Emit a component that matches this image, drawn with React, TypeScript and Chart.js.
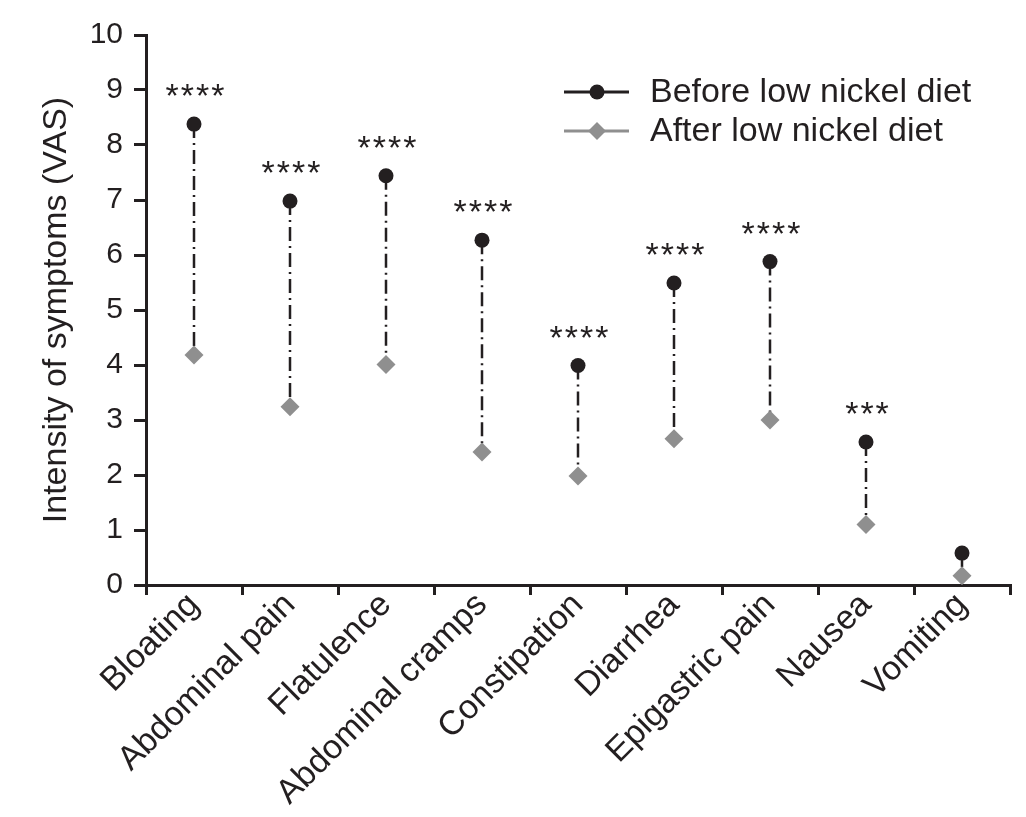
import React, { useEffect, useRef } from "react";
import { Chart, registerables } from "chart.js";

Chart.register(...registerables);

const categories = [
  "Bloating",
  "Abdominal pain",
  "Flatulence",
  "Abdominal cramps",
  "Constipation",
  "Diarrhea",
  "Epigastric pain",
  "Nausea",
  "Vomiting",
];
const beforeValues = [8.38, 6.98, 7.44, 6.27, 3.99, 5.49, 5.88, 2.6, 0.58];
const afterValues = [4.18, 3.24, 4.01, 2.42, 1.98, 2.66, 3.0, 1.1, 0.17];
const significance = ["****", "****", "****", "****", "****", "****", "****", "***", ""];
const seriesNames = ["Before low nickel diet", "After low nickel diet"];
const yTitle = "Intensity of symptoms (VAS)";

const FONT = '"Liberation Sans", Arial, Helvetica, sans-serif';
const INK = "#231f20";
const GRAY = "#8f8f8f";

const overlayPlugin = {
  id: "overlay",
  beforeDatasetsDraw(chart: any) {
    const { ctx, scales } = chart;
    const x = scales.x;
    const y = scales.y;
    ctx.save();
    ctx.strokeStyle = INK;
    ctx.lineWidth = 2.5;
    ctx.setLineDash([14, 5, 2, 5]);
    categories.forEach((_, i) => {
      const px = x.getPixelForValue(i);
      ctx.beginPath();
      ctx.moveTo(px, y.getPixelForValue(beforeValues[i]));
      ctx.lineTo(px, y.getPixelForValue(afterValues[i]));
      ctx.stroke();
    });
    ctx.restore();
  },
  afterDatasetsDraw(chart: any) {
    const { ctx, scales } = chart;
    const x = scales.x;
    const y = scales.y;
    ctx.save();
    // significance stars
    ctx.fillStyle = INK;
    ctx.font = `34px ${FONT}`;
    (ctx as any).letterSpacing = "2px";
    ctx.textAlign = "center";
    ctx.textBaseline = "alphabetic";
    significance.forEach((s, i) => {
      if (!s) return;
      const px = x.getPixelForValue(i);
      const py = y.getPixelForValue(beforeValues[i]);
      ctx.fillText(s, px + 2, py - 17);
    });
    (ctx as any).letterSpacing = "0px";

    // legend
    const lx0 = 564;
    const lx1 = 629;
    const mx = 597;
    const rows = [92, 131];
    ctx.lineWidth = 3;
    ctx.setLineDash([]);
    ctx.strokeStyle = INK;
    ctx.beginPath();
    ctx.moveTo(lx0, rows[0]);
    ctx.lineTo(lx1, rows[0]);
    ctx.stroke();
    ctx.fillStyle = INK;
    ctx.beginPath();
    ctx.arc(mx, rows[0], 7.5, 0, Math.PI * 2);
    ctx.fill();
    ctx.strokeStyle = GRAY;
    ctx.beginPath();
    ctx.moveTo(lx0, rows[1]);
    ctx.lineTo(lx1, rows[1]);
    ctx.stroke();
    ctx.fillStyle = GRAY;
    ctx.beginPath();
    ctx.moveTo(mx - 9, rows[1]);
    ctx.lineTo(mx, rows[1] - 9);
    ctx.lineTo(mx + 9, rows[1]);
    ctx.lineTo(mx, rows[1] + 9);
    ctx.closePath();
    ctx.fill();

    ctx.fillStyle = INK;
    ctx.font = `34px ${FONT}`;
    ctx.textAlign = "left";
    ctx.textBaseline = "middle";
    ctx.fillText(seriesNames[0], 650, rows[0] + 1);
    ctx.fillText(seriesNames[1], 650, rows[1] + 1);
    ctx.restore();
  },
};

export default function App() {
  const ref = useRef<HTMLCanvasElement | null>(null);

  useEffect(() => {
    document.body.style.margin = "0";
    const canvas = ref.current;
    if (!canvas) return;
    const chart = new Chart(canvas, {
      type: "line",
      data: {
        labels: categories,
        datasets: [
          {
            label: seriesNames[0],
            data: beforeValues,
            showLine: false,
            pointStyle: "circle",
            pointRadius: 7.5,
            pointHoverRadius: 7.5,
            pointBackgroundColor: INK,
            pointBorderColor: INK,
            pointBorderWidth: 0,
            borderColor: INK,
            backgroundColor: INK,
          },
          {
            label: seriesNames[1],
            data: afterValues,
            showLine: false,
            pointStyle: "rectRot",
            pointRadius: 9.5,
            pointHoverRadius: 9.5,
            pointBackgroundColor: GRAY,
            pointBorderColor: GRAY,
            pointBorderWidth: 0,
            borderColor: GRAY,
            backgroundColor: GRAY,
          },
        ],
      },
      options: {
        responsive: false,
        animation: false,
        devicePixelRatio: 1,
        layout: { padding: { top: 35, right: 16, left: 0, bottom: 0 } },
        plugins: {
          legend: { display: false },
          tooltip: { enabled: false },
        },
        scales: {
          x: {
            type: "category",
            offset: true,
            grid: {
              display: true,
              offset: true,
              drawOnChartArea: false,
              drawTicks: true,
              tickLength: 10,
              lineWidth: 3,
              color: INK,
            },
            border: { display: true, color: INK, width: 3 },
            ticks: {
              color: INK,
              font: { family: FONT, size: 34 },
              minRotation: 45,
              maxRotation: 45,
              padding: -10,
              autoSkip: false,
            },
            afterFit(scale: any) {
              scale.height = 232;
            },
          },
          y: {
            min: 0,
            max: 10,
            grid: {
              display: true,
              drawOnChartArea: false,
              drawTicks: true,
              tickLength: 12,
              lineWidth: 3,
              color: INK,
            },
            border: { display: true, color: INK, width: 3 },
            ticks: {
              stepSize: 1,
              color: INK,
              font: { family: FONT, size: 30 },
              padding: 11,
            },
            title: {
              display: true,
              text: yTitle,
              color: INK,
              font: { family: FONT, size: 34 },
              padding: { top: 36, bottom: 0 },
            },
            afterFit(scale: any) {
              scale.width = 146;
            },
          },
        },
      },
      plugins: [overlayPlugin],
    });
    return () => chart.destroy();
  }, []);

  return <canvas ref={ref} width={1026} height={817} style={{ display: "block" }} />;
}
